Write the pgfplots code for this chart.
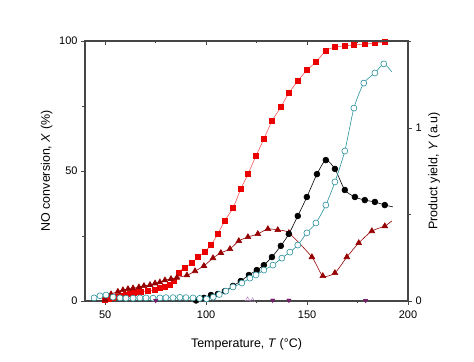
\documentclass[border=0pt]{standalone}
\usepackage{fontspec}
\setmainfont{Liberation Sans}
\usepackage{pgfplots}
\pgfplotsset{compat=1.18}
\definecolor{maroonc}{RGB}{150,0,0}
\definecolor{tealc}{RGB}{40,145,155}
\definecolor{sqline}{RGB}{245,90,90}
\definecolor{sqmark}{RGB}{235,0,0}
\definecolor{purp}{RGB}{120,30,110}
\definecolor{lpurp}{RGB}{170,120,190}
\definecolor{axgray}{RGB}{70,70,70}
\begin{document}
\begin{tikzpicture}
\useasboundingbox (0,0) rectangle (474bp,362bp);
\pgfplotsset{
 base/.style={at={(85bp,61bp)}, anchor=south west, scale only axis,
  width=323bp, height=260bp, xmin=40, xmax=200,
  axis line style={axgray, line width=1.1pt},
  tick style={axgray, line width=0.8pt},
  major tick length=4bp, minor tick length=2.5bp,
  tick label style={font=\fontsize{11}{13}\selectfont},
  /pgf/number format/assume math mode=true,
  label style={font=\fontsize{12.5}{15}\selectfont}},
}
\begin{axis}[base, ymin=0, ymax=100,
  xtick={50,100,150,200}, minor xtick={75,125,175},
  ytick={0,50,100}, minor ytick={25,75},
  tick align=outside, xtick pos=left, ytick pos=left,
  xticklabel style={yshift=-2bp},
  xlabel style={yshift=-13bp},
  xlabel={Temperature, \textit{T} (°C)},
  ylabel={NO conversion, \textit{X} (\%)}]
% red squares
\addplot[sqline, line width=0.6pt, smooth, tension=0.4, mark=square*, mark size=2.5bp,
  mark options={fill=sqmark, draw=sqmark}, mark indices={1,...,42}] coordinates {
(50,0.5)(52,0.9)(54,1.3)(56,1.7)(58,2.1)(60,2.5)(62,2.8)(64,3.1)(66,3.4)
(67.7,3.6)(71,3.8)(74.6,4.2)(77,4.9)(79.6,5.5)(82,6.4)(84,7.6)(86.3,11.0)
(89.5,12.9)(92.8,14.6)(96,16.9)(99.3,19.0)(102.4,21.5)(105.8,25.8)(109.3,31.0)
(113.3,35.8)(117.2,43.1)(120.7,48.8)(124.7,55.8)(128.6,62.3)(132.6,69.2)
(137.0,74.6)(141.0,80.0)(145.4,84.6)(149.9,88.8)(154.4,91.9)(159.3,96.2)
(163.8,97.7)(168.7,98.1)(173.2,98.5)(178.6,98.8)(183.6,99.2)(188.5,99.6)
(192,99.8)};
% maroon triangles
\addplot[maroonc, line width=0.6pt, smooth, tension=0.4, mark=triangle*, mark size=3.3bp,
  mark options={fill=maroonc, draw=maroonc}, mark indices={1,...,33}] coordinates {
(50,0.5)(52.9,2.6)(56.3,3.6)(58.8,4.2)(61.3,4.6)(63.8,4.9)(66.7,5.3)(69.2,5.8)
(72.2,6.2)(74.7,6.8)(77.1,7.2)(79.6,8.0)(82.6,8.5)(85.5,9.0)(90.5,9.9)
(94.5,11.5)(98.9,13.5)(103.4,16.5)(107.3,18.5)(111.8,20.0)(116.2,23.1)
(120.7,24.6)(125.6,25.8)(130.6,27.7)(135.5,27.3)(141.0,26.2)(152.4,16.9)
(157.8,9.6)(163.8,10.8)(169.7,16.9)(175.6,22.3)(182.1,26.9)(188.5,28.8)
(192.0,30.8)};
% black circles
\addplot[black, line width=0.6pt, smooth, tension=0.4, mark=*, mark size=2.9bp,
  mark options={fill=black}, mark indices={1,...,23}] coordinates {
(95,0.2)(98.9,1.2)(102.4,2.3)(105.8,2.7)(109.3,3.8)(113.3,5.8)(117.2,7.7)
(121.2,10.0)(125.1,11.9)(128.6,13.8)(132.6,16.9)(137.0,21.2)(141.0,25.8)
(145.4,32.7)(149.9,40.0)(154.9,48.8)(159.3,54.2)(163.8,50.8)(168.7,42.7)
(173.7,40.0)(178.6,38.8)(183.6,38.1)(188.5,36.9)(192.5,36.2)};
% teal open circles
\addplot[tealc, line width=0.6pt, smooth, tension=0.4, mark=*, mark size=3bp,
  mark options={fill=white, draw=tealc}, mark indices={1,...,39}] coordinates {
(44.5,1.2)(47.4,2.0)(50.4,2.3)(53.9,1.5)(57.3,1.2)(60.3,1.1)(63.8,1.1)
(67.2,1.2)(70.2,1.2)(73.7,1.1)(77.1,1.2)(80.1,1.3)(83.6,1.3)(87.0,1.4)
(90.0,1.3)(93.5,1.2)(96.8,1.0)(100.2,0.8)(103.5,1.5)(106.5,2.5)(109.8,3.8)
(113.3,5.4)(117.7,6.9)(121.7,8.8)(124.7,10.0)(128.6,11.9)(133.1,13.8)
(137.5,16.5)(141.5,18.8)(145.4,21.5)(149.9,26.2)(154.4,30.0)(159.3,36.9)
(163.8,45.8)(168.7,57.7)(173.2,74.2)(178.1,83.8)(183.6,87.7)(188.0,91.2)
(192.0,88.1)};
% purple markers near zero
\addplot[only marks, purp, mark=triangle*, mark size=2.5bp,
  mark options={rotate=180, fill=purp}] coordinates {
(75,0.2)(133,0.3)(141,0.3)(179,0.2)};
\addplot[only marks, lpurp, mark=triangle, mark size=2.5bp] coordinates {
(120.5,0.6)(123,0.3)};
\end{axis}
\begin{axis}[base, ymin=0, ymax=100, axis x line*=top, axis y line=none,
  tick align=inside, xtick={50,100,150,200}, minor xtick={75,125,175},
  xticklabels={}]
\end{axis}
\begin{axis}[base, ymin=0, ymax=1.504, axis y line*=right, axis x line=none,
  tick align=outside, ytick={0,1}, minor ytick={0.5,1.5},
  ylabel={Product yield, \textit{Y} (a.u)}]
\end{axis}
\end{tikzpicture}
\end{document}
